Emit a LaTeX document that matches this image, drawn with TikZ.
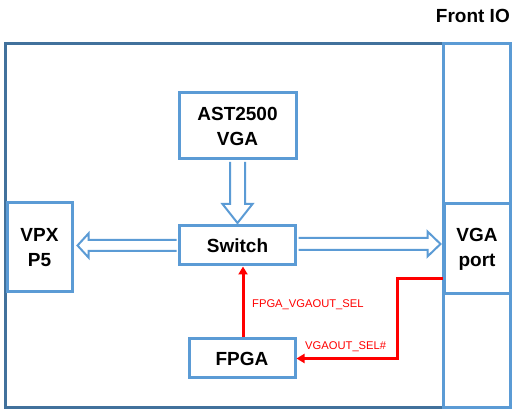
\documentclass[tikz,border=0pt]{standalone}
\usepackage{fontspec}
\setmainfont{Liberation Sans}
\usetikzlibrary{arrows.meta,calc}
\definecolor{darkb}{HTML}{41719C}
\definecolor{lightb}{HTML}{5B9BD5}
\definecolor{sigred}{HTML}{FF0000}
\tikzset{
  blk/.style={draw=lightb,line width=3pt,fill=white,inner sep=0pt,align=center,
    font=\fontsize{19}{25}\selectfont\bfseries},
  dbl/.style={draw=lightb,line width=2pt,fill=white,line join=miter},
  sig/.style={draw=sigred,line width=3pt,-{Triangle[length=8pt,width=9pt]}},
  siglbl/.style={text=sigred,font=\fontsize{11.2}{13}\selectfont,inner sep=0pt,anchor=base west}
}
\begin{document}
\begin{tikzpicture}[x=1pt,y=-1pt]
\useasboundingbox (0,0) rectangle (530,419);
% outer board and front IO
\node[draw=darkb,line width=3pt,minimum width=437.5pt,minimum height=363.5pt,inner sep=0pt] (board) at (224.25,225.25) {};
\node[draw=lightb,line width=3pt,minimum width=67pt,minimum height=364pt,inner sep=0pt] (frontio) at (477,225.5) {};
\node[font=\fontsize{19}{23}\selectfont\bfseries,anchor=east,inner sep=0pt] (fiolbl) at (510,16) {Front IO};
% blocks
\node[blk,minimum width=117pt,minimum height=66pt] (ast) at (237.5,126) {AST2500\\VGA};
\node[blk,minimum width=116pt,minimum height=39pt] (sw) at (237.5,245.5) {Switch};
\node[blk,minimum width=65pt,minimum height=89pt] (vpx) at (39.5,247.5) {VPX\\P5};
\node[blk,minimum width=66pt,minimum height=90pt] (vga) at (477,249) {VGA\\port};
\node[blk,minimum width=106pt,minimum height=39pt] (fpga) at (242,358.5) {FPGA};
% tips of the double arrows
\coordinate (tV) at ($(sw.north)+(0,-1.5)$);
\coordinate (sV) at ($(ast.south)+(0,1.5)$);
\coordinate (tL) at ($(vpx.east |- sw.west)+(4,0)$);
\coordinate (sL) at ($(sw.west)+(-1.5,0)$);
\coordinate (tR) at ($(vga.west |- sw.east)+(-2,-1.5)$);
\coordinate (sR) at ($(sw.east)+(1.5,-1.5)$);
% double arrow AST -> Switch
\draw[dbl] ($(sV)+(-7.5,0)$) -- ($(tV)+(-7.5,-19)$) -- ($(tV)+(-15,-19)$)
  -- (tV) -- ($(tV)+(15,-19)$) -- ($(tV)+(7.5,-19)$) -- ($(sV)+(7.5,0)$);
% double arrow Switch -> VPX
\draw[dbl] ($(sL)+(0,-5.5)$) -- ($(tL)+(11,-5.5)$) -- ($(tL)+(11,-12)$)
  -- (tL) -- ($(tL)+(11,12)$) -- ($(tL)+(11,5.5)$) -- ($(sL)+(0,5.5)$);
% double arrow Switch -> VGA port
\draw[dbl] ($(sR)+(0,-6)$) -- ($(tR)+(-13,-6)$) -- ($(tR)+(-13,-12.5)$)
  -- (tR) -- ($(tR)+(-13,12.5)$) -- ($(tR)+(-13,6)$) -- ($(sR)+(0,6)$);
% red signals
\draw[sig] (fpga.north -| 243,0) -- (sw.south -| 243,0);
\coordinate (c1) at (397,279);
\draw[sig,line join=miter] (vga.west |- c1) -- (c1) -- (c1 |- fpga.east) -- (fpga.east);
\node[siglbl] (l1) at (252,308) {FPGA\_VGAOUT\_SEL};
\node[siglbl] (l2) at (305,350) {VGAOUT\_SEL\#};
\end{tikzpicture}
\end{document}
